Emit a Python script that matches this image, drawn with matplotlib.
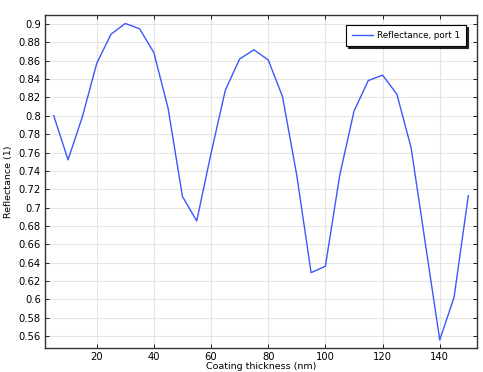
import matplotlib
matplotlib.use("Agg")
import matplotlib.pyplot as plt
from matplotlib.patches import Shadow
import numpy as np

thickness = [5, 10, 15, 20, 25, 30, 35, 40, 45, 50, 55, 60, 65, 70, 75,
             80, 85, 90, 95, 100, 105, 110, 115, 120, 125, 130, 135, 140, 145, 150]
reflectance = [0.800, 0.752, 0.799, 0.857, 0.889, 0.9007, 0.895, 0.869, 0.808, 0.712,
               0.6854, 0.759, 0.828, 0.862, 0.872, 0.861, 0.821, 0.735, 0.629, 0.636,
               0.735, 0.805, 0.8385, 0.8444, 0.8236, 0.765, 0.660, 0.5556, 0.602, 0.713]
series_label = "Reflectance, port 1"
xticks = [20, 40, 60, 80, 100, 120, 140]
yticks = [0.56, 0.58, 0.6, 0.62, 0.64, 0.66, 0.68, 0.7, 0.72, 0.74, 0.76, 0.78,
          0.8, 0.82, 0.84, 0.86, 0.88, 0.9]

plt.rcParams['font.family'] = ['DejaVu Sans']
plt.rcParams['font.size'] = 7

fig = plt.figure(figsize=(4.83, 3.72), dpi=100)
ax = fig.add_axes([0.093, 0.0645, 0.895, 0.8955])

ax.plot(thickness, reflectance, color='#3a58ff', lw=1.0, label=series_label)
ax.set_xlim(1.9, 153.1)
ax.set_ylim(0.5468, 0.9101)
ax.set_xticks(xticks)
ax.set_yticks(yticks)
ax.set_yticklabels([('%g' % v) for v in yticks])
ax.grid(True, color='#e4e4e4', lw=0.8)
ax.set_axisbelow(True)
ax.tick_params(direction='in', top=True, right=True, length=3, width=0.6,
               labelsize=7.2, pad=3)
for s in ax.spines.values():
    s.set_linewidth(1.0)
    s.set_color('#333333')
ax.set_xlabel('Coating thickness (nm)', fontsize=6.8, labelpad=0)
ax.set_ylabel('Reflectance (1)', fontsize=6.8, labelpad=4)

leg = ax.legend(loc='upper right', fontsize=6.3, fancybox=False, shadow=False,
                framealpha=1, edgecolor='black', borderpad=0.65,
                handlelength=2.4, handletextpad=0.5, borderaxespad=0,
                bbox_to_anchor=(0.9735, 0.9685))
leg.get_frame().set_linewidth(0.8)
leg.set_zorder(6)

fig.canvas.draw()
sh = Shadow(leg.legendPatch, 1.3, -1.3, color='#222222', alpha=1.0)
sh.set_zorder(5.5)
ax.add_artist(sh)

fig.savefig('out.png', dpi=100)
